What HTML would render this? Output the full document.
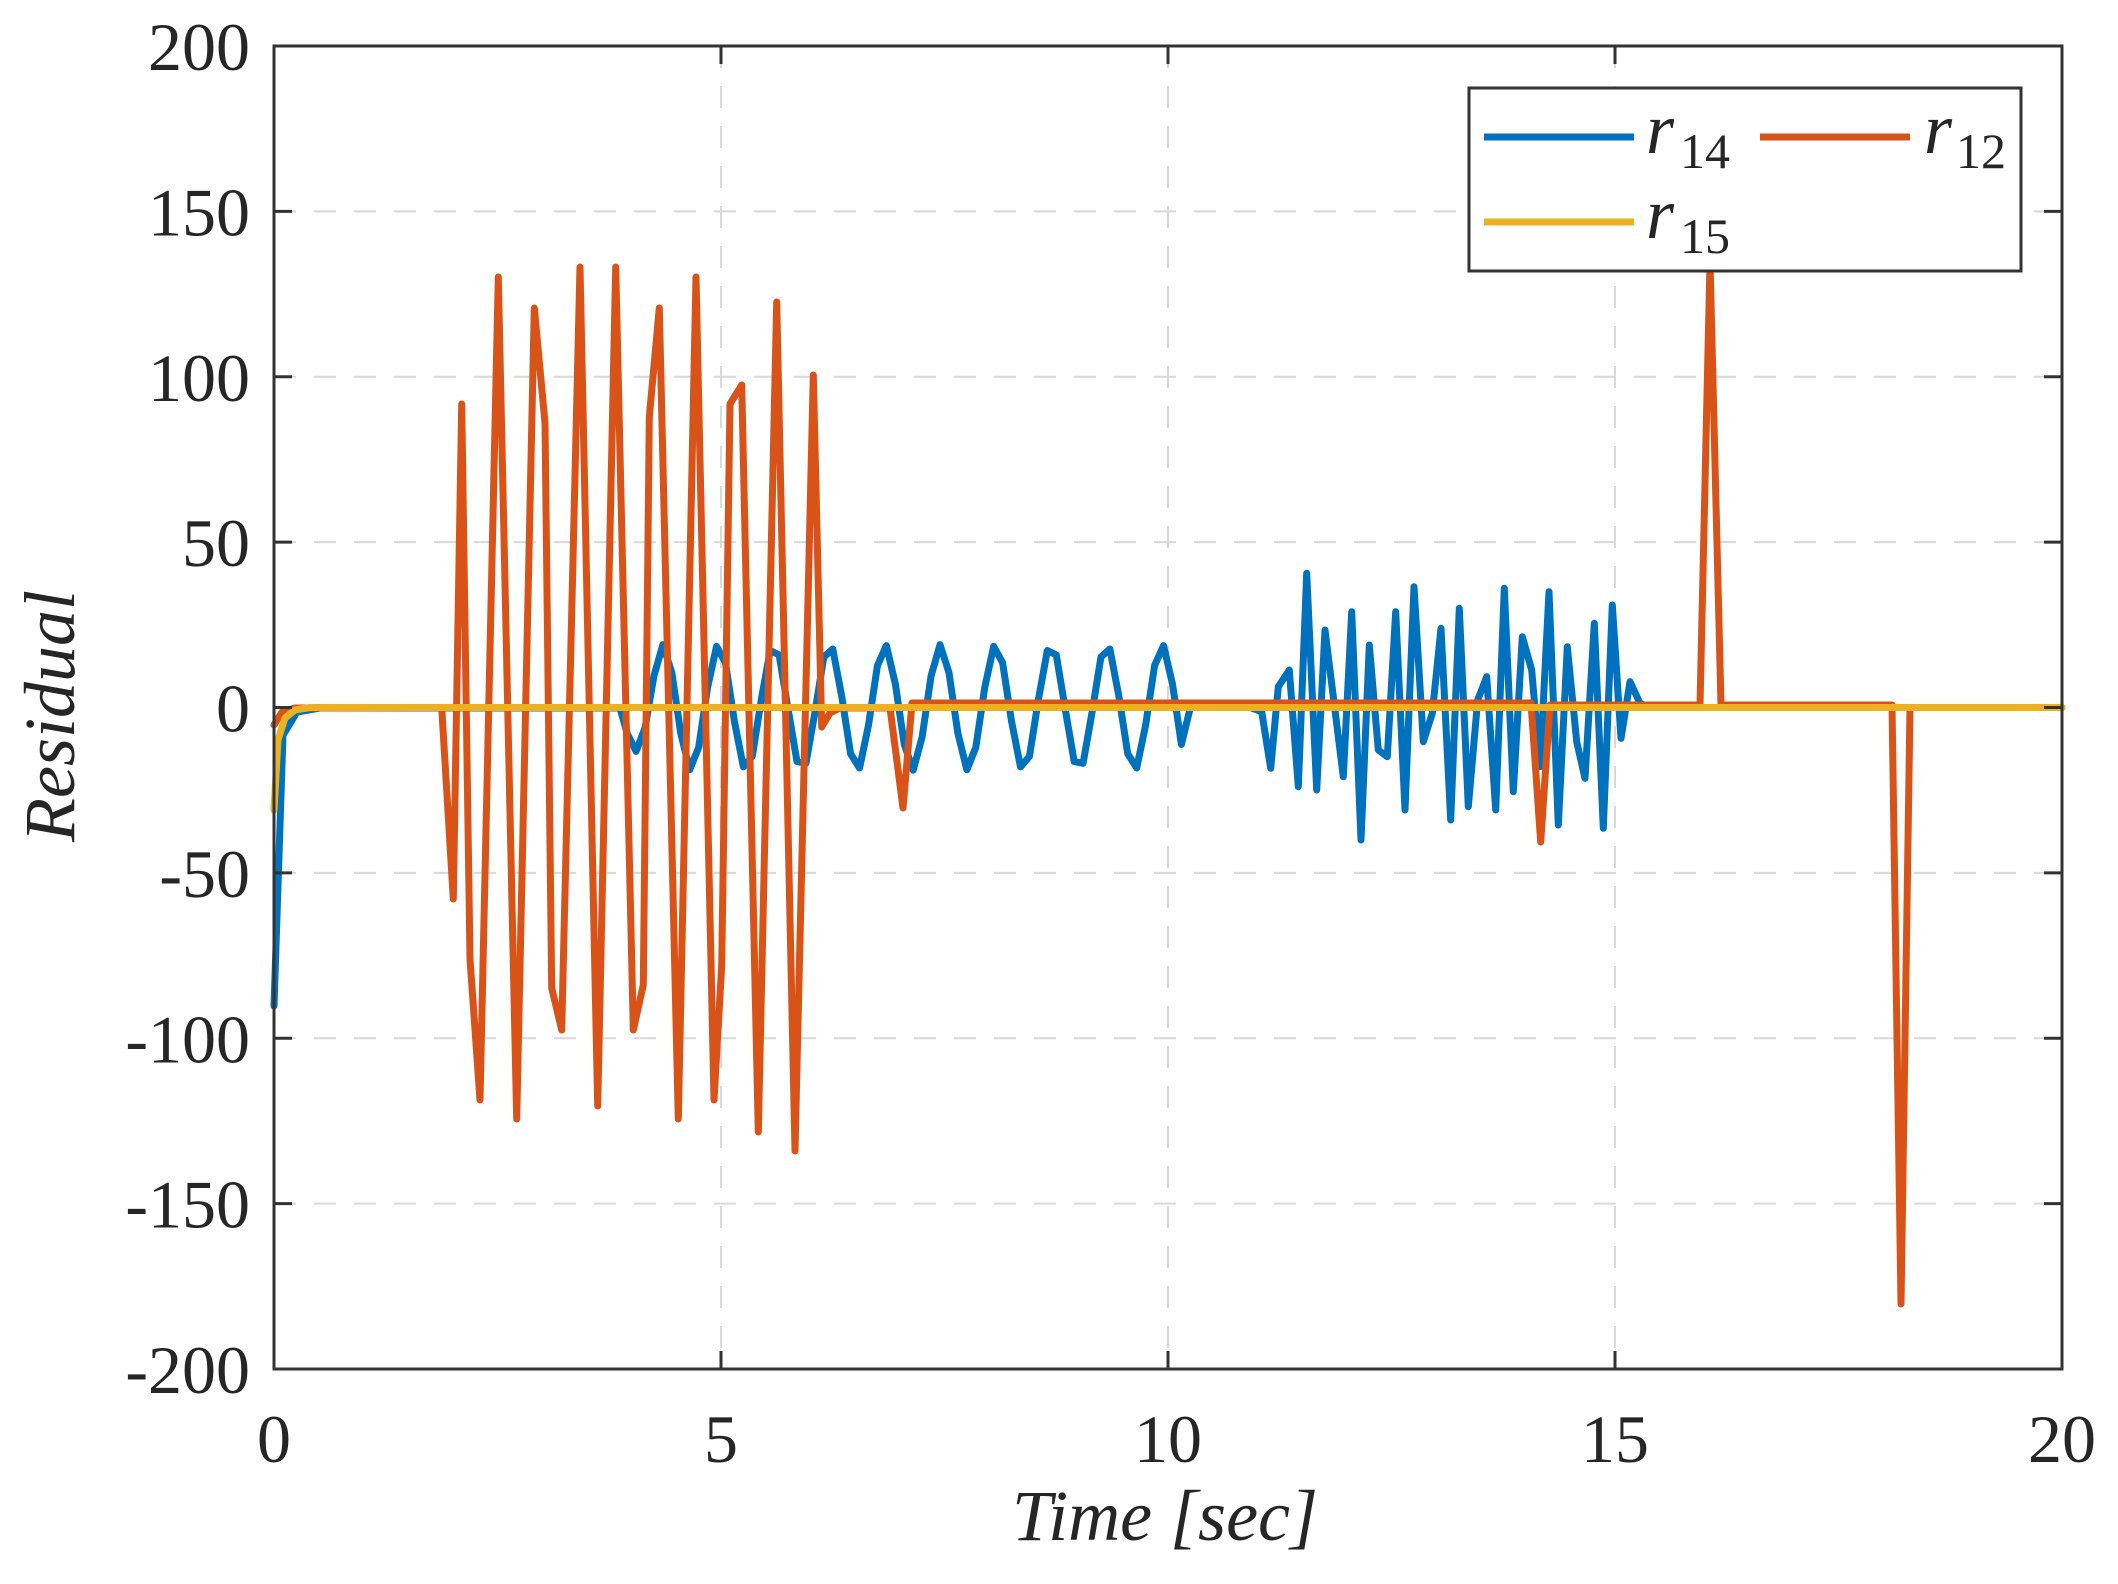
<!DOCTYPE html>
<html><head><meta charset="utf-8"><style>
html,body{margin:0;padding:0;background:#fff;}
svg{display:block;}
text{font-family:"Liberation Serif","Times New Roman",serif;fill:#262626;}
</style></head><body>
<svg id="s" width="2118" height="1584" viewBox="0 0 2118 1584" xmlns="http://www.w3.org/2000/svg" font-family="Liberation Serif, serif">
<rect width="2118" height="1584" fill="#fff"/>
<g id="grid" stroke="#d9d9d9" stroke-width="2" stroke-dasharray="22,18"></g>
<g id="series" fill="none" stroke-width="7" stroke-linejoin="round" stroke-linecap="round"></g>
<g id="axes" stroke="#333" stroke-width="3" fill="none"></g>
<g id="labels" font-size="68" font-family="Liberation Serif, serif"></g>
<text x="1165" y="1540" font-size="72" font-style="italic" text-anchor="middle" font-family="Liberation Serif, serif">Time [sec]</text>
<text transform="translate(74,716) rotate(-90)" font-size="72" font-style="italic" text-anchor="middle" font-family="Liberation Serif, serif">Residual</text>
<rect x="1469" y="88" width="552" height="183" fill="#fff" stroke="#333" stroke-width="3"/>
<line x1="1484" y1="137" x2="1634" y2="137" stroke="#0072BD" stroke-width="7"/>
<line x1="1760" y1="137" x2="1910" y2="137" stroke="#D95319" stroke-width="7"/>
<line x1="1484" y1="222" x2="1634" y2="222" stroke="#EDB120" stroke-width="7"/>
<g font-family="Liberation Serif, serif">
<text x="1646" y="153" font-size="72" font-style="italic">r</text><text x="1680" y="168" font-size="50">14</text>
<text x="1924" y="153" font-size="72" font-style="italic">r</text><text x="1956" y="168" font-size="50">12</text>
<text x="1646" y="238" font-size="72" font-style="italic">r</text><text x="1680" y="253" font-size="50">15</text>
</g>
</svg>
<script>
const L=274,R=2062,T=46,B=1369,NS="http://www.w3.org/2000/svg";
const X=t=>L+t*(R-L)/20, Y=v=>707.5-v*(B-T)/400;
function el(p,n,a){const e=document.createElementNS(NS,n);for(const k in a)e.setAttribute(k,a[k]);document.getElementById(p).appendChild(e);return e;}
for(let t=5;t<20;t+=5)el("grid","line",{x1:X(t),x2:X(t),y1:T,y2:B});
for(let v=-150;v<200;v+=50)el("grid","line",{x1:L,x2:R,y1:Y(v),y2:Y(v)});
el("axes","rect",{x:L,y:T,width:R-L,height:B-T});
for(let t=0;t<=20;t+=5){el("axes","line",{x1:X(t),x2:X(t),y1:B,y2:B-18});el("axes","line",{x1:X(t),x2:X(t),y1:T,y2:T+18});
 const e=el("labels","text",{x:X(t),y:1462,"text-anchor":"middle"});e.textContent=t;}
for(let v=-200;v<=200;v+=50){el("axes","line",{x1:L,x2:L+18,y1:Y(v),y2:Y(v)});el("axes","line",{x1:R,x2:R-18,y1:Y(v),y2:Y(v)});
 const e=el("labels","text",{x:250,y:Y(v)+24,"text-anchor":"end"});e.textContent=v;}
function pl(pts,c){el("series","polyline",{points:pts.map(p=>p.join(",")).join(" "),stroke:c});}
let b=[[274,1006],[283,735],[297,712],[320,708],[620,708]];
for(let t=3.95;t<=10.15;t+=0.1){let v=19*Math.sin(2*Math.PI*(t-6.058)/0.62);if(t<4.2)v*=0.7;b.push([X(t),Y(v)]);}
b.push([X(10.25),707.5],[1250,707.5]);
b=b.concat([[1261.7,711.7],[1270.7,768.3],[1278.3,686.7],[1289.3,670],[1298.3,786.7],[1306.7,573.3],[1316.7,790],[1325,630],[1343.3,776.7],[1351.7,611.7],[1361,840],[1369.3,645],[1378.3,750],[1387.3,756.7],[1395.7,611.7],[1405,810],[1414,586.7],[1423.3,741.7],[1432.3,713.3],[1441,628.3],[1450.7,820],[1459.3,608.3],[1468.3,806.7],[1477.7,700],[1486.7,676.7],[1495.7,810],[1504.3,588.3],[1513.3,791.7],[1522.3,636.7],[1531.7,670],[1540,766.7],[1549,591.7],[1558.3,825],[1567.3,646.7],[1576.7,741.7],[1585,778.3],[1594.3,623.3],[1603.3,828.3],[1612.3,605],[1621,738.3],[1630,681.7],[1640,703.3],[1650,707.5],[2062,707.5]]);
pl(b,"#0072BD");
pl([[274,725],[282,712],[295,708],[441.7,707.5],[453.3,899],[461.7,404],[470,959],[480,1100],[498.3,277],[516.7,1119],[534.3,308],[545,423],[551.7,988],[561.7,1030],[580,267],[597.7,1106],[615.7,267],[633.3,1030],[643.3,985],[649.3,417],[659.3,308],[678.3,1119],[696,277],[714,1100],[721.7,966],[730,404],[741.7,385],[758.3,1132],[776.7,302],[795,1151],[813.3,375],[821.7,727],[830,713],[840,708],[890,708],[903,808],[912,703],[1531,703],[1540.7,842],[1550,705],[1700,705],[1710,262],[1721,705],[1892,705],[1901,1304],[1910,707.5],[2062,707.5]],"#D95319");
pl([[274,810],[278,740],[285,718],[295,710],[310,707.5],[2062,707.5]],"#EDB120");
</script>
</body></html>
